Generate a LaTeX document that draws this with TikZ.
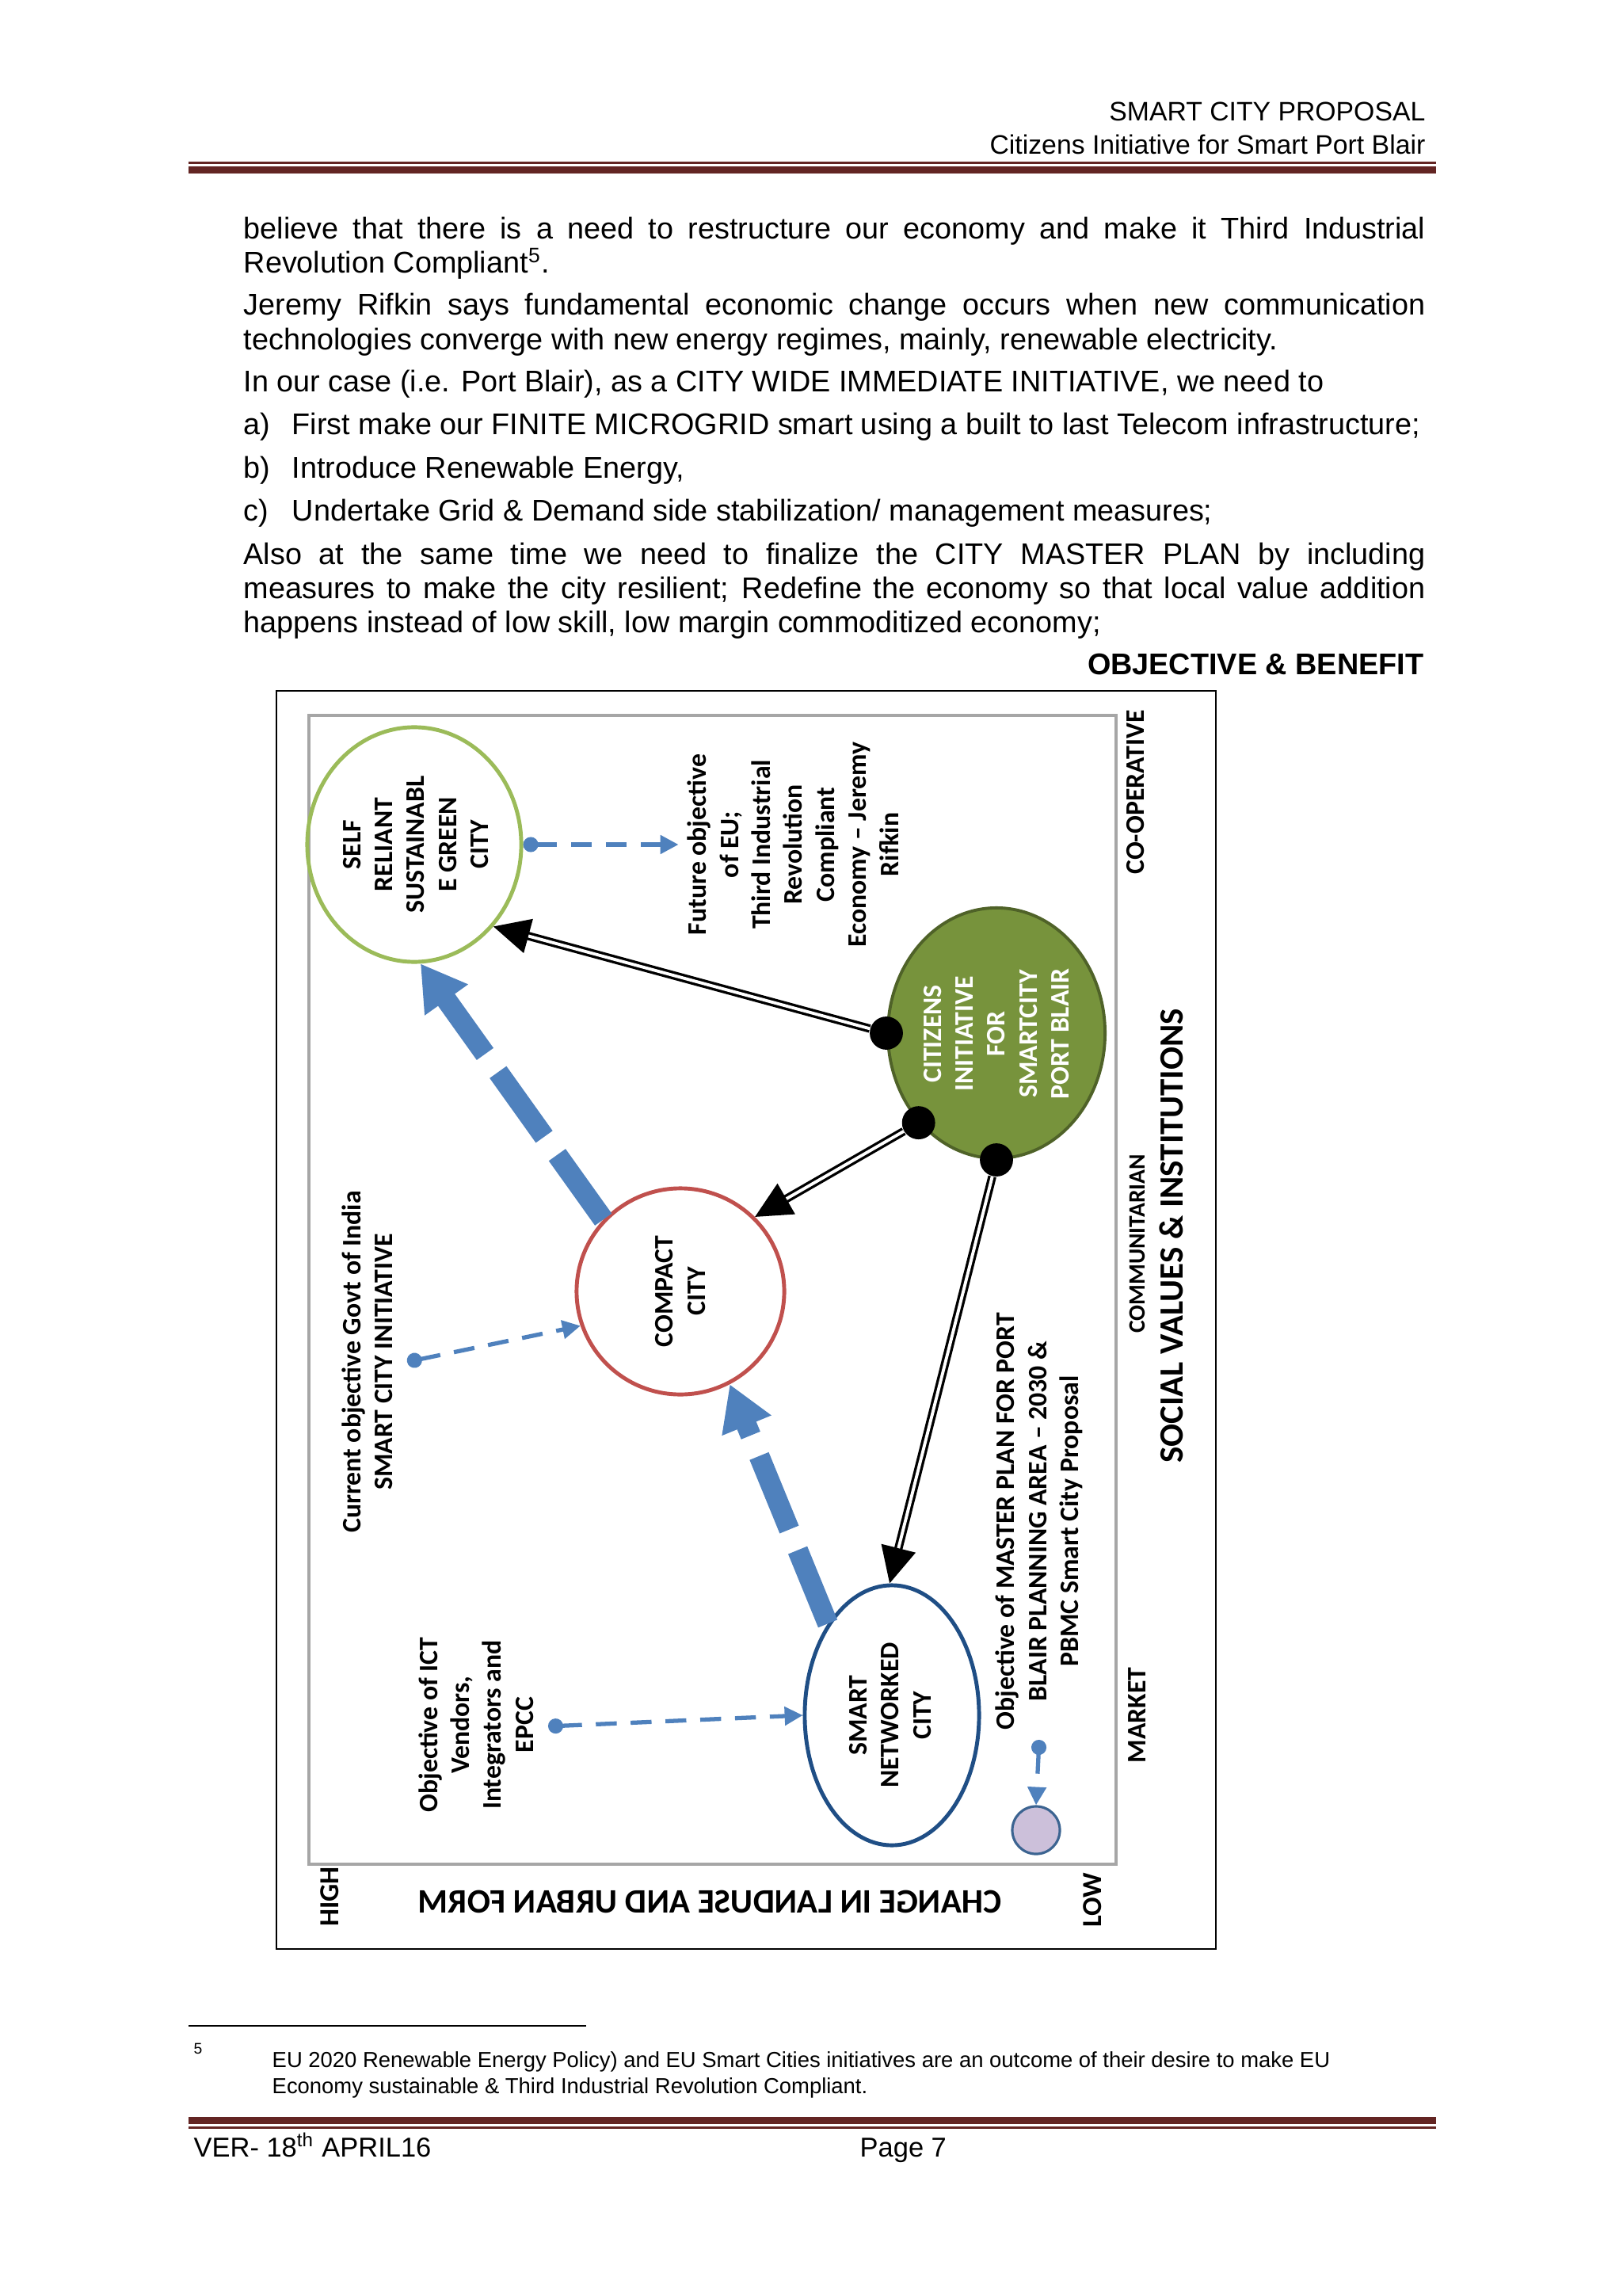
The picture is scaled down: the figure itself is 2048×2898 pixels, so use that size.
\documentclass[tikz,border=0pt]{standalone}
\usepackage{fontspec}
\setmainfont{Liberation Sans}
\newfontfamily\diagfont{Carlito}
\usetikzlibrary{arrows.meta,shapes.geometric}
\definecolor{HdrRed}{HTML}{632523}
\definecolor{LeafGreen}{HTML}{9BBB59}
\definecolor{Olive}{HTML}{77933C}
\definecolor{OliveDark}{HTML}{4F6228}
\definecolor{BrickRed}{HTML}{C0504D}
\definecolor{NavyRing}{HTML}{1F4E85}
\definecolor{FlowBlue}{HTML}{4F81BD}
\definecolor{Lilac}{HTML}{CCC0DA}
\definecolor{LilacRim}{HTML}{3C6491}
\definecolor{FrameGray}{HTML}{A6A6A6}
\tikzset{
  bodytxt/.style={anchor=base west,inner sep=0pt,font=\fontsize{10.75}{12.8}\selectfont},
  cityring/.style={ellipse,draw,line width=1.4pt,inner sep=0pt},
  vlabel/.style={rotate=90,align=center,inner sep=0pt,font=\diagfont\bfseries\fontsize{9.6}{11.5}\selectfont},
  hubdot/.style={circle,fill=black,inner sep=0pt,minimum size=11.9pt},
  dblline/.style={-{Triangle[length=13pt,width=12.5pt]},draw=black,double=white,line width=0.95pt,double distance=1.1pt},
  thinline/.style={{Circle[length=5.4pt]}-{Triangle[length=6.5pt,width=6.5pt]},draw=FlowBlue,line width=1.5pt,dash pattern=on 7.5pt off 5pt},
  thickline/.style={-{Triangle[length=16pt,width=18pt]},draw=FlowBlue,line width=7.4pt,dash pattern=on 28.5pt off 8pt}
}
\begin{document}
\begin{tikzpicture}[x=0.01cm,y=-0.01cm]
  \useasboundingbox (0,0) rectangle (2048,2898);
  \fill[white] (0,0) rectangle (2048,2898);
  % header
  \node[bodytxt,anchor=base east,font=\fontsize{9.6}{11.5}\selectfont] (hdr1) at (1800,153) {SMART CITY PROPOSAL};
  \node[bodytxt,anchor=base east,font=\fontsize{9.6}{11.5}\selectfont] (hdr2) at (1800,195) {Citizens Initiative for Smart Port Blair};
  \fill[HdrRed] (238,204) rectangle (1813,207);
  \fill[HdrRed] (238,210) rectangle (1813,219);
  % text of the page
  \node[bodytxt] (p1) at (307,302) {\makebox[14.91cm][s]{believe that there is a need to restructure our economy and make it Third Industrial}};
  \node[bodytxt] (p2) at (307,345) {Revolution Compliant\textsuperscript{5}.};
  \node[bodytxt] (p3) at (307,398) {\makebox[14.91cm][s]{Jeremy Rifkin says fundamental economic change occurs when new communication}};
  \node[bodytxt] (p4) at (307,442) {technologies converge with new energy regimes, mainly, renewable electricity.};
  \node[bodytxt] (p5) at (307,495) {In our case (i.e. Port Blair), as a CITY WIDE IMMEDIATE INITIATIVE, we need to};
  \node[bodytxt] (ia) at (307,549) {a)};
  \node[bodytxt] (pa) at (368,549) {First make our FINITE MICROGRID smart using a built to last Telecom infrastructure;};
  \node[bodytxt] (ib) at (307,604) {b)};
  \node[bodytxt] (pb) at (368,604) {Introduce Renewable Energy,};
  \node[bodytxt] (ic) at (307,658) {c)};
  \node[bodytxt] (pc) at (368,658) {Undertake Grid \& Demand side stabilization/ management measures;};
  \node[bodytxt] (p6) at (307,713) {\makebox[14.91cm][s]{Also at the same time we need to finalize the CITY MASTER PLAN by including}};
  \node[bodytxt] (p7) at (307,756) {\makebox[14.91cm][s]{measures to make the city resilient; Redefine the economy so that local value addition}};
  \node[bodytxt] (p8) at (307,799) {happens instead of low skill, low margin commoditized economy;};
  \node[bodytxt,anchor=base east,font=\bfseries\fontsize{10.75}{12.8}\selectfont] (objhead) at (1798,852) {OBJECTIVE \& BENEFIT};
  % figure
  \draw[black,line width=0.7pt] (349,872) rectangle (1535,2460);
  \draw[FrameGray,line width=1.3pt] (390,903) rectangle (1409,2353);
  \node[cityring,draw=LeafGreen,minimum width=2.70cm,minimum height=2.96cm] (green) at (523,1066) {};
  \node[cityring,draw=OliveDark,fill=Olive,line width=1.1pt,minimum width=2.74cm,minimum height=3.16cm] (hub) at (1258,1304) {};
  \node[cityring,draw=BrickRed,minimum width=2.62cm,minimum height=2.60cm] (compact) at (859,1630) {};
  \node[cityring,draw=NavyRing,minimum width=2.20cm,minimum height=3.28cm] (networked) at (1126,2165) {};
  \node[cityring,draw=LilacRim,fill=Lilac,line width=0.9pt,minimum width=0.6cm,minimum height=0.6cm] (legend) at (1308,2310) {};
  \node[vlabel] (greentxt) at (525,1066) {SELF\\RELIANT\\SUSTAINABL\\E GREEN\\CITY};
  \node[vlabel,text=white] (hubtxt) at (1258,1305) {CITIZENS\\INITIATIVE\\FOR\\SMARTCITY\\PORT BLAIR};
  \node[vlabel] (compacttxt) at (859,1630) {COMPACT\\CITY};
  \node[vlabel] (networkedtxt) at (1124,2165) {SMART\\NETWORKED\\CITY};
  \node[vlabel] (futtxt) at (1001,1066) {Future objective\\of EU;\\Third Industrial\\Revolution\\Compliant\\Economy – Jeremy\\Rifkin};
  \node[vlabel] (curtxt) at (464,1719) {Current objective Govt of India\\SMART CITY INITIATIVE};
  \node[vlabel] (icttxt) at (601,2177) {Objective of ICT\\Vendors,\\Integrators and\\EPCC};
  \node[vlabel] (plantxt) at (1312,1920) {Objective of MASTER PLAN FOR PORT\\BLAIR PLANNING AREA – 2030 \&\\PBMC Smart City Proposal};
  \node[vlabel] (coop) at (1434,1000) {CO-OPERATIVE};
  \node[vlabel,font=\diagfont\bfseries\fontsize{8.4}{10}\selectfont] (commun) at (1436,1570) {COMMUNITARIAN};
  \node[vlabel,font=\diagfont\bfseries\fontsize{12.2}{14}\selectfont] (social) at (1479,1560) {SOCIAL VALUES \& INSTITUTIONS};
  \node[vlabel] (market) at (1436,2165) {MARKET};
  \node[vlabel,font=\diagfont\bfseries\fontsize{9.9}{12}\selectfont] (high) at (416,2394) {HIGH};
  \node[vlabel,font=\diagfont\bfseries\fontsize{9.9}{12}\selectfont] (low) at (1379,2398) {LOW};
  \node[inner sep=0pt,xscale=-1,font=\diagfont\bfseries\fontsize{12.3}{14}\selectfont] (urban) at (896,2400) {CHANGE IN LANDUSE AND URBAN FORM};
  \node[hubdot] (d1) at (hub.180) {};
  \node[hubdot] (d2) at (hub.229) {};
  \node[hubdot] (d3) at (hub.270) {};
  \draw[dblline] (d1) -- (green.-46);
  \draw[dblline] (d2) -- (compact.45);
  \draw[dblline] (d3) -- (networked.91);
  \draw[thickline] (compact.137) -- (green.-87);
  \draw[thickline] (networked.125) -- (compact.-62);
  \coordinate (curdot) at (514,1719);
  \coordinate (ictdot) at (692,2179);
  \coordinate (legdot) at (1312,2196);
  \draw[thinline,shorten >=3pt] (green.east) -- (futtxt.north);
  \draw[thinline] (curdot) -- (compact.199);
  \draw[thinline] (ictdot) -- (networked.west);
  \draw[thinline] (legdot) -- (legend.north);
  % footnote and footer
  \draw[black,line width=0.7pt] (238,2557) -- (740,2557);
  \node[bodytxt,font=\fontsize{5.5}{6}\selectfont] (fnmark) at (244,2592) {5};
  \node[bodytxt,font=\fontsize{7.8}{9}\selectfont] (fn1) at (343,2609) {EU 2020 Renewable Energy Policy) and EU Smart Cities initiatives are an outcome of their desire to make EU};
  \node[bodytxt,font=\fontsize{7.8}{9}\selectfont] (fn2) at (343,2642) {Economy sustainable \& Third Industrial Revolution Compliant.};
  \fill[HdrRed] (238,2672) rectangle (1813,2681);
  \fill[HdrRed] (238,2684) rectangle (1813,2687);
  \node[bodytxt,font=\fontsize{9.8}{11}\selectfont] (ver) at (244,2722) {VER- 18\textsuperscript{th} APRIL16};
  \node[bodytxt,font=\fontsize{9.8}{11}\selectfont] (page) at (1085,2722) {Page 7};
\end{tikzpicture}
\end{document}
